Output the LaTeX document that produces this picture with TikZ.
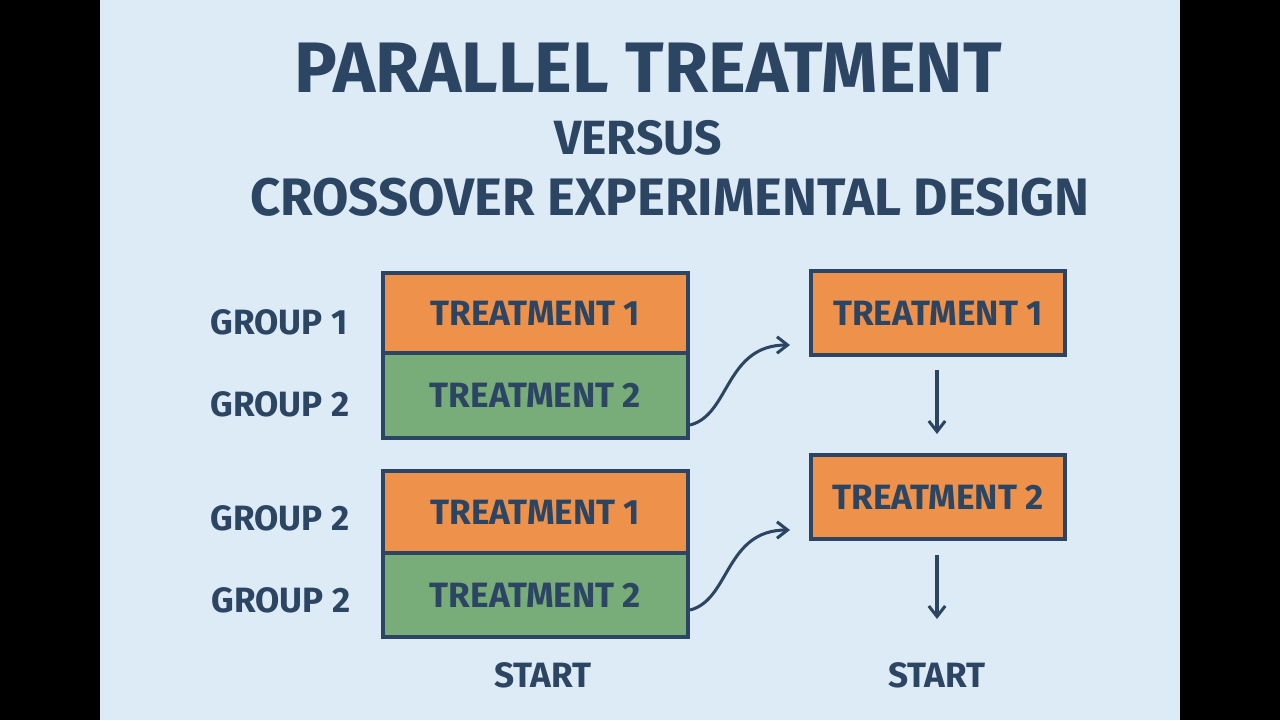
\documentclass[tikz,border=0pt]{standalone}
\usepackage{fontspec}
\setmainfont{Fira Sans}
\usetikzlibrary{positioning, arrows.meta}
\definecolor{navy}{HTML}{2B4563}
\definecolor{sky}{HTML}{DDEBF7}
\definecolor{tangerine}{HTML}{EE924B}
\definecolor{sage}{HTML}{78AC78}
\tikzset{
	box/.style = {draw = navy, line width = 2.6pt, minimum width = 305*0.03cm, inner sep = 0, text = navy, font = \bfseries\fontsize{30}{33}\selectfont},
	grp/.style = {text = navy, font = \bfseries\fontsize{30}{33}\selectfont},
	link/.style = {-{Straight Barb[length = 9pt, width = 14pt]}, navy, line width = 2.6pt},
}
\begin{document}
\begin{tikzpicture}[x = 0.03cm, y = -0.03cm]
					\fill [black] (0, 0) rectangle (1280, 720);
					\fill [sky] (100, 0) rectangle (1180, 720);

					\node [text = navy, font = \bfseries\fontsize{61}{66}\selectfont] (title) at (648, 68) {PARALLEL TREATMENT};
					\node [text = navy, font = \bfseries\fontsize{41}{45}\selectfont] (versus) at (638, 138) {VERSUS};
					\node [text = navy, font = \bfseries\fontsize{45}{50}\selectfont] (design) at (670, 197) {CROSSOVER EXPERIMENTAL DESIGN};

					\node [box, fill = tangerine, minimum height = 80*0.03cm] (a1) at (535.5, 313) {TREATMENT 1};
					\node [box, fill = sage, minimum height = 85*0.03cm] (a2) at (535.5, 395.5) {TREATMENT 2};
					\node [box, fill = tangerine, minimum height = 82*0.03cm] (b1) at (535.5, 512) {TREATMENT 1};
					\node [box, fill = sage, minimum height = 84*0.03cm] (b2) at (535.5, 595) {TREATMENT 2};

					\node [grp] (g1) at (279, 322) {GROUP 1};
					\node [grp] (g2) at (280, 404) {GROUP 2};
					\node [grp] (g3) at (280, 518) {GROUP 2};
					\node [grp] (g4) at (281, 600) {GROUP 2};

					\node [box, fill = tangerine, minimum width = 254*0.03cm, minimum height = 84*0.03cm] (c1) at (938, 313) {TREATMENT 1};
					\node [box, fill = tangerine, minimum width = 254*0.03cm, minimum height = 84*0.03cm] (c2) at (938, 497) {TREATMENT 2};

					\node [grp] (s1) at (543, 675) {START};
					\node [grp] (s2) at (937, 675) {START};

					\coordinate (d1) at (937, 370);
					\coordinate (d2) at (937, 434);
					\coordinate (d3) at (937, 555);
					\coordinate (d4) at (937, 619);
					\coordinate (e1) at (690, 425);
					\coordinate (e2) at (790, 345);
					\coordinate (e3) at (690, 610);
					\coordinate (e4) at (790, 530);

					\draw [link] (d1) to (d2);
					\draw [link] (d3) to (d4);
					\draw [link] (e1) .. controls (730, 415) and (725, 345) .. (e2);
					\draw [link] (e3) .. controls (730, 600) and (725, 530) .. (e4);
				\end{tikzpicture}
\end{document}
